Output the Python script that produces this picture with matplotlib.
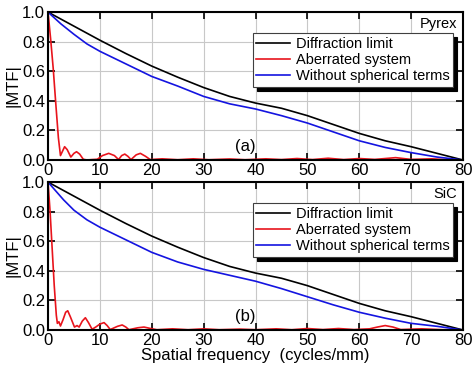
import matplotlib
matplotlib.use("Agg")
import matplotlib.pyplot as plt

plt.rcParams['font.family'] = ['Liberation Sans', 'DejaVu Sans']

# diffraction limit (same for both panels)
x_diff = [0, 5, 10, 15, 20, 25, 30, 35, 40, 45, 50, 55, 60, 65, 70, 75, 80]
y_diff = [1.0, 0.905, 0.81, 0.72, 0.635, 0.56, 0.49, 0.43, 0.385, 0.35, 0.30,
          0.24, 0.18, 0.13, 0.09, 0.045, 0.0]

# panel (a) Pyrex
x_blue_a = [0, 2.5, 5, 7.5, 10, 15, 20, 25, 30, 35, 40, 45, 50, 55, 60, 65, 70, 75, 80]
y_blue_a = [1.0, 0.92, 0.85, 0.785, 0.735, 0.65, 0.565, 0.50, 0.43, 0.38, 0.345,
            0.30, 0.25, 0.19, 0.13, 0.085, 0.05, 0.02, 0.0]
x_red_a = [0, 0.5, 1.0, 1.5, 2.0, 2.4, 2.8, 3.2, 3.7, 4.4, 5.0, 5.5, 6.1, 6.8,
           7.5, 8.5, 9.5, 10.5, 11.7, 12.8, 13.6, 14.2, 14.8, 15.4, 16.0, 17.0,
           17.8, 18.8, 19.7, 22, 25, 28, 31, 35, 38, 42, 45, 48, 51, 54, 57,
           60, 63, 67, 70, 74, 77, 80]
y_red_a = [1.0, 0.82, 0.62, 0.38, 0.15, 0.03, 0.06, 0.09, 0.07, 0.02, 0.045,
           0.056, 0.04, 0.005, 0.0, 0.003, 0.005, 0.03, 0.045, 0.03, 0.003,
           0.03, 0.04, 0.025, 0.003, 0.035, 0.045, 0.025, 0.003, 0.008, 0.002,
           0.008, 0.002, 0.007, 0.002, 0.008, 0.003, 0.01, 0.003, 0.012, 0.003,
           0.01, 0.004, 0.016, 0.004, 0.008, 0.002, 0.0]

# panel (b) SiC
x_blue_b = [0, 1.5, 3, 5, 7.5, 10, 15, 20, 25, 30, 35, 40, 45, 50, 55, 60, 65, 70, 75, 80]
y_blue_b = [1.0, 0.94, 0.88, 0.81, 0.745, 0.695, 0.61, 0.525, 0.46, 0.41, 0.37,
            0.33, 0.28, 0.225, 0.17, 0.12, 0.08, 0.045, 0.025, 0.0]
x_red_b = [0, 0.4, 0.8, 1.2, 1.6, 1.8, 2.1, 2.4, 2.9, 3.4, 3.8, 4.3, 5.1, 5.6,
           6.0, 6.6, 7.2, 7.8, 8.5, 9.2, 10.0, 10.8, 11.4, 12.0, 13.4, 14.3,
           15.0, 15.6, 17.3, 18.5, 19.8, 21, 24, 27, 30, 33, 37, 40, 44, 47,
           50, 53, 56, 59, 62, 63.5, 65, 66.5, 68, 72, 76, 80]
y_red_b = [1.0, 0.8, 0.55, 0.3, 0.1, 0.045, 0.056, 0.027, 0.07, 0.12, 0.13,
           0.09, 0.02, 0.03, 0.02, 0.06, 0.083, 0.05, 0.005, 0.02, 0.04, 0.05,
           0.03, 0.003, 0.025, 0.034, 0.02, 0.002, 0.015, 0.02, 0.01, 0.002,
           0.008, 0.002, 0.008, 0.002, 0.006, 0.002, 0.008, 0.002, 0.01, 0.003,
           0.01, 0.003, 0.008, 0.02, 0.03, 0.02, 0.003, 0.008, 0.002, 0.0]

labels = ['Diffraction limit', 'Aberrated system', 'Without spherical terms']

fig = plt.figure(figsize=(4.74, 3.67), dpi=100)
ax_a = fig.add_axes([0.1013, 0.564, 0.8755, 0.403])
ax_b = fig.add_axes([0.1013, 0.1008, 0.8755, 0.403])

panels = [
    (ax_a, x_red_a, y_red_a, x_blue_a, y_blue_a, 'Pyrex', '(a)'),
    (ax_b, x_red_b, y_red_b, x_blue_b, y_blue_b, 'SiC', '(b)'),
]

for ax, xr, yr, xb, yb, name, tag in panels:
    ax.grid(True, color='#c8c8c8', linewidth=0.8)
    ax.set_axisbelow(True)
    ax.plot(x_diff, y_diff, color='black', linewidth=1.2, label=labels[0])
    ax.plot(xr, yr, color='#e8141c', linewidth=1.2, label=labels[1])
    ax.plot(xb, yb, color='#1414e0', linewidth=1.2, label=labels[2])
    ax.set_xlim(0, 80)
    ax.set_ylim(0, 1.0)
    ax.set_xticks(range(0, 81, 10))
    ax.set_yticks([0, 0.2, 0.4, 0.6, 0.8, 1.0])
    ax.set_yticklabels(['0.0', '0.2', '0.4', '0.6', '0.8', '1.0'])
    ax.tick_params(direction='in', top=True, right=True, length=5, width=1.2,
                   labelsize=12, pad=2)
    for s in ax.spines.values():
        s.set_linewidth(1.5)
    ax.set_ylabel('|MTF|', fontsize=12, labelpad=1)
    ax.text(0.985, 0.965, name, transform=ax.transAxes, ha='right', va='top',
            fontsize=10.5)
    ax.text(0.475, 0.09, tag, transform=ax.transAxes, ha='center', va='center',
            fontsize=12)
    leg = ax.legend(loc='upper right', bbox_to_anchor=(0.976, 0.858),
                    fontsize=10.5, fancybox=False, framealpha=1,
                    edgecolor='#404040', borderaxespad=0, borderpad=0.25,
                    labelspacing=0.15, handlelength=2.3, handletextpad=0.4,
                    shadow={'color': 'black', 'alpha': 1, 'ox': 3, 'oy': -3})
    leg.get_frame().set_linewidth(0.8)

ax_b.set_xlabel('Spatial frequency  (cycles/mm)', fontsize=12, labelpad=0)

fig.savefig('out.png', dpi=100)
